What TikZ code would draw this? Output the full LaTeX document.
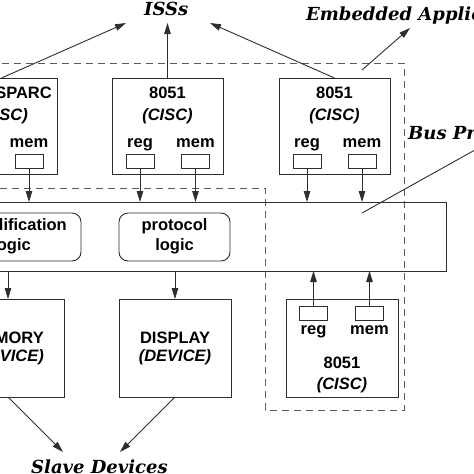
\documentclass[tikz,border=0pt]{standalone}
\usepackage{fontspec}
\usetikzlibrary{arrows.meta}
\newfontfamily\boxfont{Liberation Sans}
\newfontfamily\labelfont{DejaVu Serif}
\definecolor{linec}{HTML}{2E2E2E}
\definecolor{dashc}{HTML}{5A5A5A}
\tikzset{
  boxnode/.style={draw=linec, line width=0.9pt, rectangle, inner sep=0pt, outer sep=0pt},
  smallbox/.style={boxnode, minimum width=28pt, minimum height=14pt},
  procbox/.style={boxnode, minimum width=111pt, minimum height=96pt},
  devbox/.style={boxnode, minimum width=112pt, minimum height=98pt},
  logicbox/.style={boxnode, rounded corners=9pt, minimum width=111pt, minimum height=48pt},
  arr/.style={draw=linec, line width=0.9pt, -{Triangle[length=11pt,width=6.5pt]}},
  plainline/.style={draw=linec, line width=0.9pt},
  dashline/.style={draw=dashc, line width=0.9pt, dash pattern=on 7pt off 5pt},
  txt/.style={font=\boxfont\bfseries\fontsize{16.5}{19}\selectfont, inner sep=0pt, anchor=base, text=black},
  itxt/.style={txt, font=\boxfont\bfseries\itshape\fontsize{16.5}{19}\selectfont},
  lbl/.style={font=\labelfont\bfseries\itshape\fontsize{18}{21}\selectfont, inner sep=0pt, anchor=base west, text=black}
}
\begin{document}
\begin{tikzpicture}[x=1pt,y=-1pt]
\useasboundingbox (0,0) rectangle (474,474);
\clip (0,0) rectangle (474,474);
\fill[white] (0,0) rectangle (474,474);

% dashed outline of the embedded application
\draw[dashline] (-10,63) -- (404,63) -- (404,410) -- (265,410) -- (265,188) -- (-10,188);

% bus protocol box
\node[boxnode, minimum width=466pt, minimum height=69pt] (bus) at (213,236.5) {};

% top processors
\node[procbox] (sparc) at (1.5,126) {};
\node[procbox] (ptwo) at (167.5,126) {};
\node[procbox] (pthree) at (334.5,126) {};

\node[smallbox] (sparcmem) at (29,161) {};
\node[smallbox] (ptworeg) at (140,161) {};
\node[smallbox] (ptwomem) at (195.5,161) {};
\node[smallbox] (pthreereg) at (307,161) {};
\node[smallbox] (pthreemem) at (362,161) {};

\node[txt, anchor=base east] (tsparc) at (52,98) {SPARC};
\node[itxt, anchor=base east] (trisc) at (28,120) {(RISC)};
\node[txt] (tsparcmem) at (29,147) {mem};

\node[txt] (tptwo) at (167.5,98) {8051};
\node[itxt] (tptwoc) at (167.5,120) {(CISC)};
\node[txt] (tptworeg) at (140,147) {reg};
\node[txt] (tptwomem) at (195.5,147) {mem};

\node[txt] (tpthree) at (334.5,98) {8051};
\node[itxt] (tpthreec) at (334.5,120) {(CISC)};
\node[txt] (tpthreereg) at (307,147) {reg};
\node[txt] (tpthreemem) at (362,147) {mem};

% logic blocks inside the bus
\node[logicbox] (modlogic) at (25.5,237) {};
\node[logicbox] (protlogic) at (174.5,237) {};
\node[txt, anchor=base east] (tmod1) at (67,230) {modification};
\node[txt, anchor=base east] (tmod2) at (31,250) {logic};
\node[txt] (tprot1) at (174.5,230) {protocol};
\node[txt] (tprot2) at (174.5,250) {logic};

% slave devices
\node[devbox] (memdev) at (8,348) {};
\node[devbox] (dispdev) at (175,348) {};
\node[txt, anchor=base east] (tmem1) at (44,343) {MEMORY};
\node[itxt, anchor=base east] (tmem2) at (44,361) {(DEVICE)};
\node[txt] (tdisp1) at (175,343) {DISPLAY};
\node[itxt] (tdisp2) at (175,361) {(DEVICE)};

% bottom 8051
\node[devbox] (pfour) at (342,348) {};
\node[smallbox] (pfourreg) at (313.5,313) {};
\node[smallbox] (pfourmem) at (369.5,313) {};
\node[txt] (tpfourreg) at (313.5,334) {reg};
\node[txt] (tpfourmem) at (369.5,334) {mem};
\node[txt] (tpfour) at (342,368) {8051};
\node[itxt] (tpfourc) at (342,389) {(CISC)};

% labels
\node[lbl] (iss) at (144,15.5) {ISSs};
\node[lbl] (embapp) at (306,20.5) {Embedded Application};
\node[lbl] (busprot) at (408,139.5) {Bus Protocol};
\node[lbl] (slaves) at (31,473) {Slave Devices};

\coordinate (issleft) at (126,23);
\coordinate (issmid) at (167.5,23);
\coordinate (issright) at (210,23);
\coordinate (embtail) at (362,70);
\coordinate (embhead) at (410,28);
\coordinate (bustail) at (362,213);
\coordinate (bushead) at (500,136);
\coordinate (slaveleft) at (63,452);
\coordinate (slaveright) at (120,452);

% arrows to ISSs
\draw[arr] (sparc.north) -- (issleft);
\draw[arr] (ptwo.north) -- (issmid);
\draw[arr] (pthree.north) -- (issright);

% label pointers
\draw[arr] (embtail) -- (embhead);
\draw[plainline] (bustail) -- (bushead);

% processors to bus
\draw[arr] (sparcmem.south) -- (sparcmem.south |- bus.north);
\draw[arr] (ptworeg.south) -- (ptworeg.south |- bus.north);
\draw[arr] (ptwomem.south) -- (ptwomem.south |- bus.north);
\draw[arr] (pthreereg.south) -- (pthreereg.south |- bus.north);
\draw[arr] (pthreemem.south) -- (pthreemem.south |- bus.north);

% bottom 8051 to bus
\draw[arr] (pfourreg.north) -- (pfourreg.north |- bus.south);
\draw[arr] (pfourmem.north) -- (pfourmem.north |- bus.south);

% bus to devices
\draw[arr] (memdev.north |- bus.south) -- (memdev.north);
\draw[arr] (dispdev.north |- bus.south) -- (dispdev.north);

% devices to label
\draw[arr] (memdev.south) -- (slaveleft);
\draw[arr] (dispdev.south) -- (slaveright);
\end{tikzpicture}
\end{document}
